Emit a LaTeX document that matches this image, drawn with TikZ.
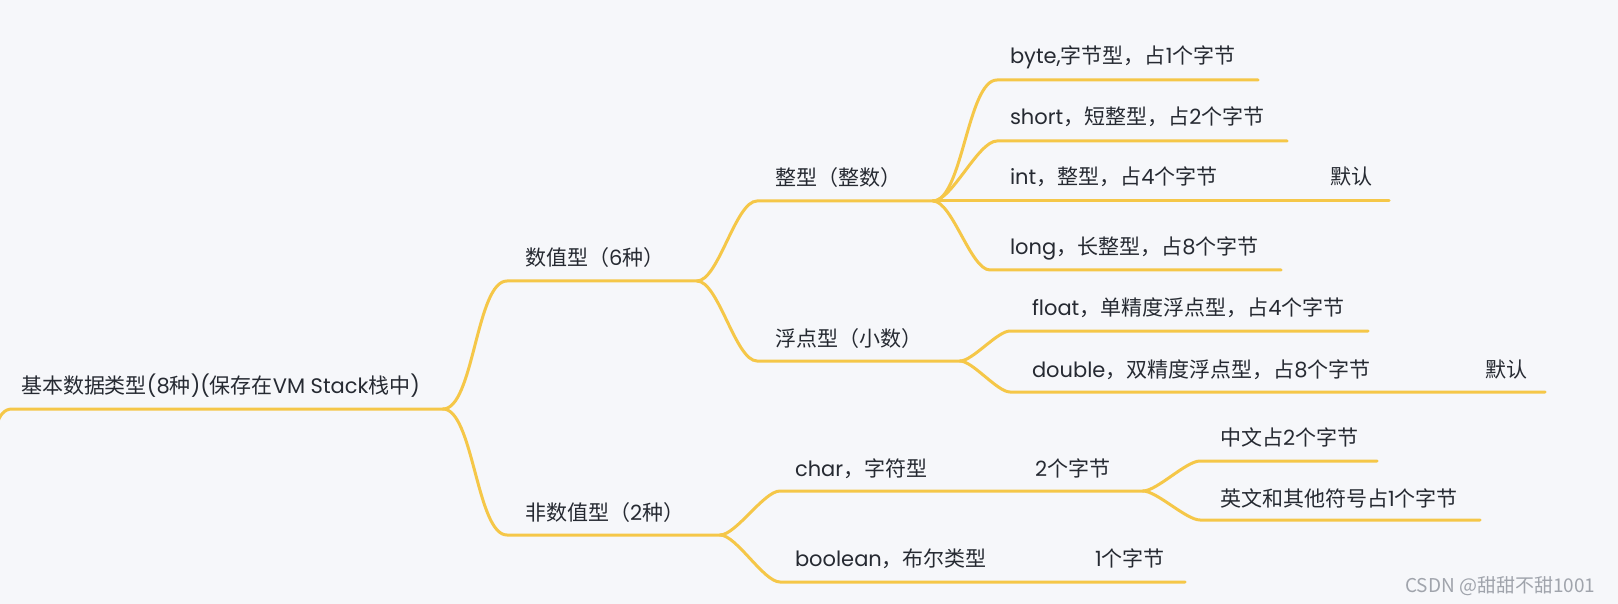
\documentclass[tikz,border=0pt]{standalone}
\usepackage{fontspec}
\setmainfont{Noto Sans CJK SC}
\newfontfamily\lat{Poppins}
\newfontfamily\wmfont{Noto Sans CJK SC}
\definecolor{bg}{RGB}{246,247,250}
\definecolor{br}{RGB}{245,199,72}
\definecolor{tx}{RGB}{38,42,50}
\definecolor{wmc}{RGB}{160,164,172}
\begin{document}
\begin{tikzpicture}[x=1pt,y=-1pt,
  ul/.style={draw=br,line width=3pt,line cap=round},
  lk/.style={out=0,in=180,looseness=0.55},
  lbl/.style={anchor=base west,inner sep=0pt,outer sep=0pt,text=tx,font=\fontsize{21}{25}\selectfont}]
\fill[bg] (0,0) rectangle (1618,604);
\useasboundingbox (0,0) rectangle (1618,604);

% underline coordinates
\coordinate (inc) at (-4,540);
\coordinate (rootS) at (12,409);  \coordinate (rootE) at (443,409);
\coordinate (numS) at (507,281);  \coordinate (numE) at (697,281);
\coordinate (nonS) at (507,535);  \coordinate (nonE) at (720,535);
\coordinate (intS) at (757,201);  \coordinate (intE) at (933,201);
\coordinate (fltS) at (757,361);  \coordinate (fltE) at (960,361);
\coordinate (byteS) at (997,80);  \coordinate (byteE) at (1258,80);
\coordinate (shortS) at (997,141); \coordinate (shortE) at (1287,141);
\coordinate (inttS) at (997,201); \coordinate (inttE) at (1389,201);
\coordinate (longS) at (990,270); \coordinate (longE) at (1281,270);
\coordinate (floatS) at (1010,331); \coordinate (floatE) at (1368,331);
\coordinate (doubleS) at (1010,392); \coordinate (doubleE) at (1545,392);
\coordinate (charS) at (780,491); \coordinate (charE) at (1143,491);
\coordinate (zhS) at (1200,461); \coordinate (zhE) at (1377,461);
\coordinate (enS) at (1200,520); \coordinate (enE) at (1480,520);
\coordinate (boolS) at (780,582); \coordinate (boolE) at (1185,582);

% connectors and underlines
\draw[ul] (inc) to[out=88,in=180,looseness=0.6] (rootS) -- (rootE);
\draw[ul] (rootE) to[lk] (numS) -- (numE);
\draw[ul] (rootE) to[lk] (nonS) -- (nonE);
\draw[ul] (numE) to[lk] (intS) -- (intE);
\draw[ul] (numE) to[lk] (fltS) -- (fltE);
\draw[ul] (intE) to[lk] (byteS) -- (byteE);
\draw[ul] (intE) to[lk] (shortS) -- (shortE);
\draw[ul] (intE) -- (inttS) -- (inttE);
\draw[ul] (intE) to[lk] (longS) -- (longE);
\draw[ul] (fltE) to[lk] (floatS) -- (floatE);
\draw[ul] (fltE) to[lk] (doubleS) -- (doubleE);
\draw[ul] (nonE) to[lk] (charS) -- (charE);
\draw[ul] (nonE) to[lk] (boolS) -- (boolE);
\draw[ul] (charE) to[lk] (zhS) -- (zhE);
\draw[ul] (charE) to[lk] (enS) -- (enE);

% labels
\node[lbl] (root) at (21,393) {基本数据类型{\lat(8}种{\lat)(}保存在{\lat VM Stack}栈中{\lat)}};
\node[lbl] (num) at (525,266) {数值型（{\lat 6}种）};
\node[lbl] (non) at (525,520) {非数值型（{\lat 2}种）};
\node[lbl] (int) at (775,186) {整型（整数）};
\node[lbl] (flt) at (775,346) {浮点型（小数）};
\node[lbl] (byte) at (1010,64) {{\lat byte,}字节型，占{\lat 1}个字节};
\node[lbl] (short) at (1010,125) {{\lat short}，短整型，占{\lat 2}个字节};
\node[lbl] (intt) at (1010,185) {{\lat int}，整型，占{\lat 4}个字节};
\node[lbl] (dfa) at (1330,185) {默认};
\node[lbl] (long) at (1010,255) {{\lat long}，长整型，占{\lat 8}个字节};
\node[lbl] (float) at (1032,316) {{\lat float}，单精度浮点型，占{\lat 4}个字节};
\node[lbl] (double) at (1032,377) {{\lat double}，双精度浮点型，占{\lat 8}个字节};
\node[lbl] (dfb) at (1485,377) {默认};
\node[lbl] (char) at (795,476) {{\lat char}，字符型};
\node[lbl] (ctwo) at (1035,476) {{\lat 2}个字节};
\node[lbl] (zh) at (1220,445) {中文占{\lat 2}个字节};
\node[lbl] (en) at (1220,506) {英文和其他符号占{\lat 1}个字节};
\node[lbl] (bool) at (795,566) {{\lat boolean}，布尔类型};
\node[lbl] (bone) at (1095,566) {{\lat 1}个字节};
\node[anchor=base west,inner sep=0pt,text=wmc,font=\wmfont\fontsize{19}{22}\selectfont] (wm) at (1405,592) {CSDN @甜甜不甜1001};
\end{tikzpicture}
\end{document}
